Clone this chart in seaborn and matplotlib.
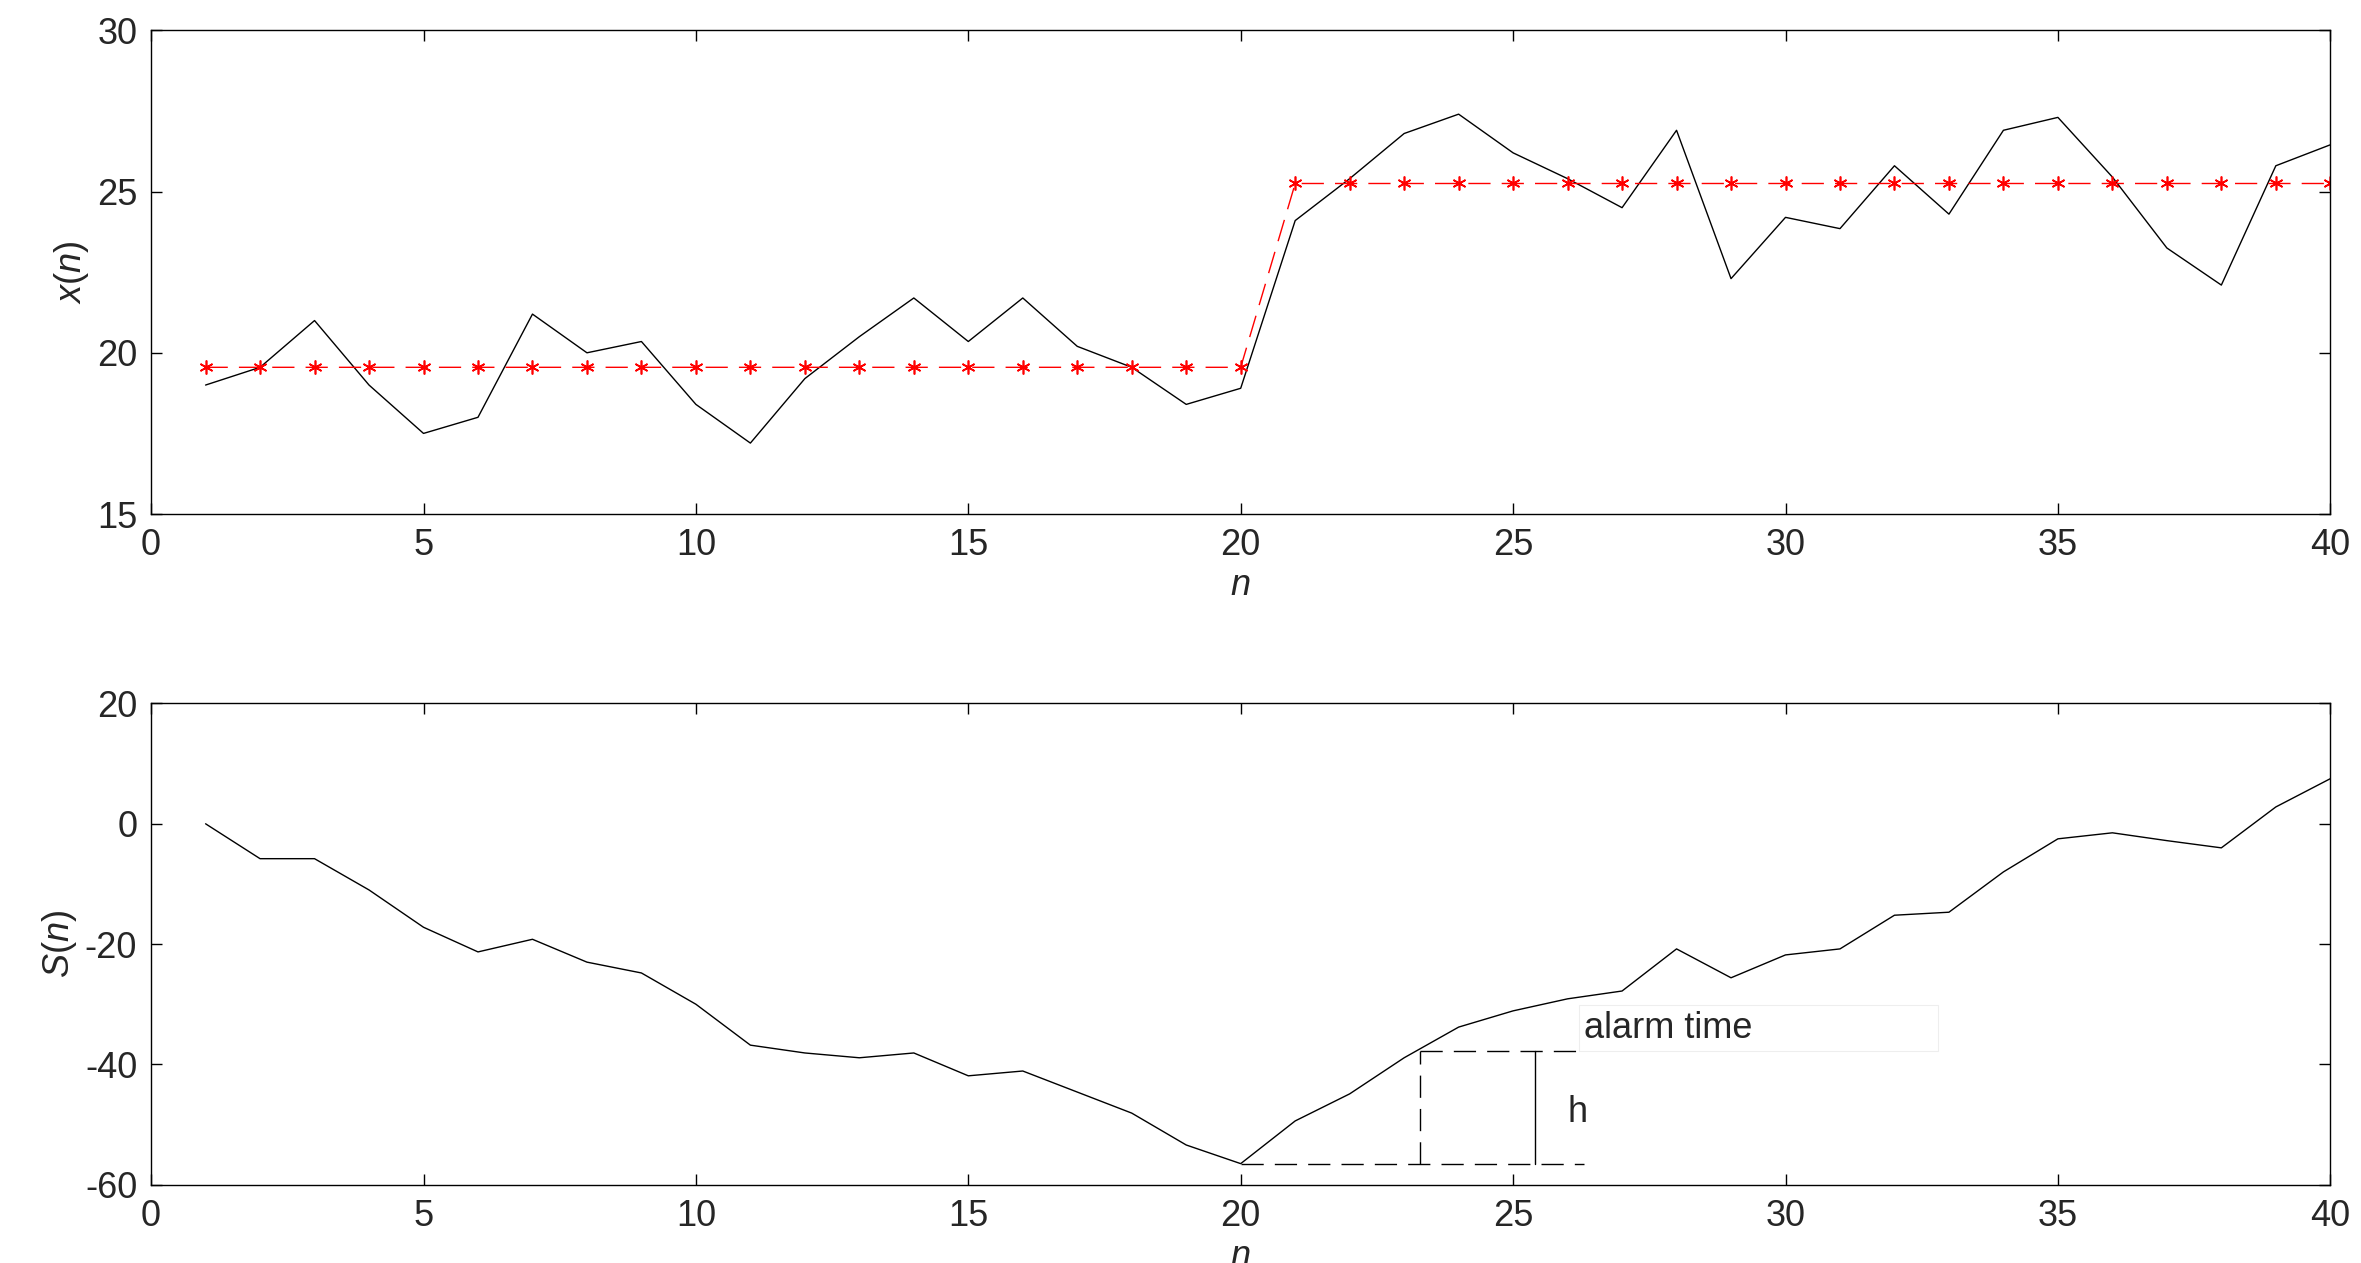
import matplotlib
matplotlib.use("Agg")
import matplotlib.pyplot as plt
import numpy as np
import pandas as pd
import seaborn as sns

sns.set_theme(style="white")
plt.rcParams["font.family"] = ["Liberation Sans", "DejaVu Sans"]
plt.rcParams["mathtext.fontset"] = "custom"
plt.rcParams["mathtext.it"] = "Liberation Sans:italic"
plt.rcParams["mathtext.rm"] = "Liberation Sans"
plt.rcParams["axes.unicode_minus"] = False

n = list(range(1, 41))
x_n = [19.0, 19.55, 21.0, 19.0, 17.5, 18.0, 21.2, 20.0, 20.35, 18.4,
       17.2, 19.2, 20.5, 21.7, 20.35, 21.7, 20.2, 19.55, 18.4, 18.9,
       24.1, 25.4, 26.8, 27.4, 26.2, 25.4, 24.5, 26.9, 22.3, 24.2,
       23.85, 25.8, 24.3, 26.9, 27.3, 25.45, 23.25, 22.1, 25.8, 26.45]
mean_n = [19.55] * 20 + [25.25] * 20
s_n = [0, -5.8, -5.8, -11, -17.2, -21.3, -19.2, -23, -24.8, -30,
       -36.8, -38.1, -38.9, -38.1, -41.9, -41.1, -44.6, -48.1, -53.4, -56.5,
       -49.4, -44.9, -38.9, -33.8, -31.1, -29.1, -27.8, -20.8, -25.6, -21.8,
       -20.8, -15.2, -14.7, -8, -2.5, -1.5, -2.8, -4, 2.8, 7.5]

# annotation geometry for the alarm marker
s_min = -56.5
s_alarm = -37.8
n_alarm = 23.3
n_h = 25.4
n_end = 26.3

df = pd.DataFrame({"n": n, "x": x_n, "mean": mean_n, "S": s_n})

fig = plt.figure(figsize=(23.61, 12.63), dpi=100)
ax1 = fig.add_axes([0.064, 0.593, 0.923, 0.383])
ax2 = fig.add_axes([0.064, 0.062, 0.923, 0.381])

FS = 26

sns.lineplot(data=df, x="n", y="x", ax=ax1, color="black", linewidth=1.0)
sns.lineplot(data=df, x="n", y="mean", ax=ax1, color="red", linewidth=1.0,
             marker=(6, 2, 0), markersize=10, markeredgecolor="red",
             markeredgewidth=1.2)
ax1.lines[-1].set_dashes([16, 8])
ax1.set_xlim(0, 40)
ax1.set_ylim(15, 30)
ax1.set_xticks(range(0, 41, 5))
ax1.set_yticks([15, 20, 25, 30])
ax1.set_xlabel(r"$n$", fontsize=FS)
ax1.set_ylabel(r"$x$($n$)", fontsize=FS)

sns.lineplot(data=df, x="n", y="S", ax=ax2, color="black", linewidth=1.0)
ax2.set_xlim(0, 40)
ax2.set_ylim(-60, 20)
ax2.set_xticks(range(0, 41, 5))
ax2.set_yticks(range(-60, 21, 20))
ax2.set_xlabel(r"$n$", fontsize=FS)
ax2.set_ylabel(r"$S$($n$)", fontsize=FS)

dash = dict(color="black", linewidth=1.0, dashes=[16, 8])
ax2.plot([20, n_end], [s_min, s_min], **dash)
ax2.plot([n_alarm, n_end], [s_alarm, s_alarm], **dash)
ax2.plot([n_alarm, n_alarm], [s_min, s_alarm], **dash)
ax2.plot([n_h, n_h], [s_min, s_alarm], color="black", linewidth=1.0)
ax2.text(n_h + 0.6, -48, "h", fontsize=FS, va="center")
ax2.text(26.3, -34, "alarm time                  ", fontsize=FS, va="center",
         bbox=dict(facecolor="white", edgecolor="#eeeeee", pad=4, linewidth=0.8))

for ax in (ax1, ax2):
    ax.tick_params(direction="in", length=8, labelsize=FS, top=True, right=True,
                   bottom=True, left=True, width=1.0, color="black", pad=10)
    for sp in ax.spines.values():
        sp.set_color("black")
        sp.set_linewidth(1.0)

fig.savefig("out.png", dpi=100)
